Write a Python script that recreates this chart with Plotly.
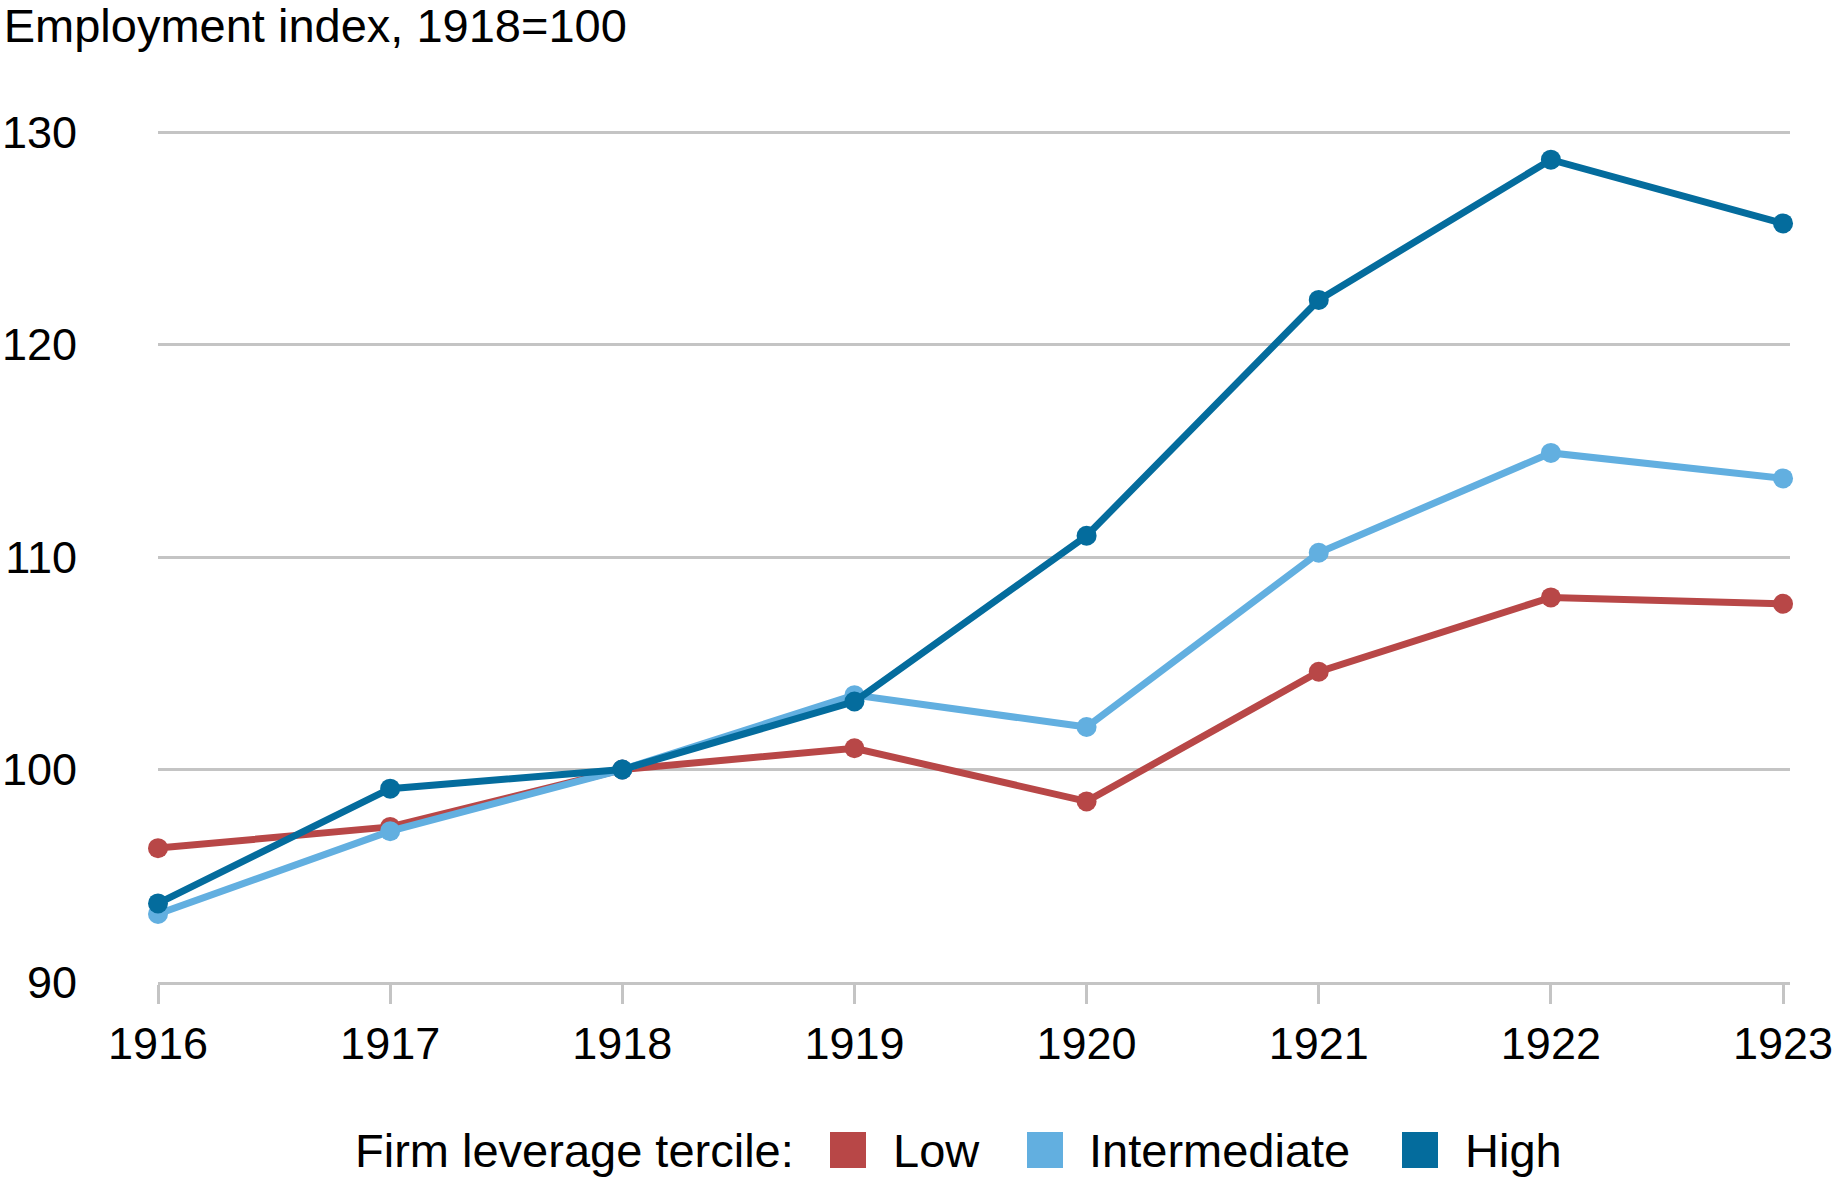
import plotly.graph_objects as go

years = [1916, 1917, 1918, 1919, 1920, 1921, 1922, 1923]
low = [96.3, 97.3, 100.0, 101.0, 98.5, 104.6, 108.1, 107.8]
intermediate = [93.2, 97.1, 100.0, 103.5, 102.0, 110.2, 114.9, 113.7]
high = [93.7, 99.1, 100.0, 103.2, 111.0, 122.1, 128.7, 125.7]

series_names = ["Low", "Intermediate", "High"]
series_values = [low, intermediate, high]
series_colors = ["#B84747", "#62AFE0", "#046C9D"]

y_ticks = [90, 100, 110, 120, 130]
title_text = "Employment index, 1918=100"
legend_title = "Firm leverage tercile:"

W, H = 1840, 1182
L, R, T, B = 158, 50, 131, 200
PW, PH = W - L - R, H - T - B
FONT = "Liberation Sans, Arial, sans-serif"
GRID = "#C4C4C4"


def px_x(px):
    return (px - L) / PW


def px_y(py):
    return (H - B - py) / PH


fig = go.Figure()
for name, vals, col in zip(series_names, series_values, series_colors):
    fig.add_trace(go.Scatter(
        x=years, y=vals, name=name, mode="lines+markers",
        line=dict(color=col, width=7),
        marker=dict(color=col, size=20),
        cliponaxis=False, showlegend=False,
    ))

# manual legend (squares + labels)
legend_items = [
    (830, 891),
    (1027, 1087),
    (1402, 1463),
]
shapes = []
annotations = [dict(
    text=legend_title, xref="paper", yref="paper",
    x=px_x(353), y=px_y(1150), xanchor="left", yanchor="middle",
    showarrow=False, font=dict(family=FONT, size=47, color="black"),
)]
for (sq_x, tx_x), name, col in zip(legend_items, series_names, series_colors):
    shapes.append(dict(
        type="rect", xref="paper", yref="paper",
        x0=px_x(sq_x), x1=px_x(sq_x + 36),
        y0=px_y(1132), y1=px_y(1168),
        fillcolor=col, line=dict(width=0),
    ))
    annotations.append(dict(
        text=name, xref="paper", yref="paper",
        x=px_x(tx_x), y=px_y(1150), xanchor="left", yanchor="middle",
        showarrow=False, font=dict(family=FONT, size=47, color="black"),
    ))

fig.update_layout(
    width=W, height=H,
    margin=dict(l=L, r=R, t=T, b=B, autoexpand=False),
    paper_bgcolor="white", plot_bgcolor="white",
    font=dict(family=FONT, size=45, color="black"),
    title=dict(
        text=title_text, x=0.002, xref="container", xanchor="left",
        y=1 - 9 / H, yref="container", yanchor="top", pad=dict(t=0, l=0),
        font=dict(family=FONT, size=47, color="black"),
    ),
    shapes=shapes,
    annotations=annotations,
    showlegend=False,
)
fig.update_xaxes(
    range=[1916, 1923.03], tickvals=years, ticktext=[str(y) for y in years],
    showgrid=False, zeroline=False, showline=True, linecolor=GRID, linewidth=3,
    ticks="outside", ticklen=19, tickwidth=3, tickcolor=GRID, automargin=False,
    ticklabelstandoff=1, tickfont=dict(family=FONT, size=45, color="black"),
)
fig.update_yaxes(
    range=[90, 130.05], tickvals=y_ticks, ticktext=[str(v) for v in y_ticks],
    showgrid=True, gridcolor=GRID, gridwidth=3, zeroline=False, showline=False,
    ticks="", ticklabelstandoff=80, automargin=False,
    tickfont=dict(family=FONT, size=45, color="black"),
)

fig.write_html(
    "out.html",
    config={"displayModeBar": False},
    post_script="document.body.style.margin='0';",
)
